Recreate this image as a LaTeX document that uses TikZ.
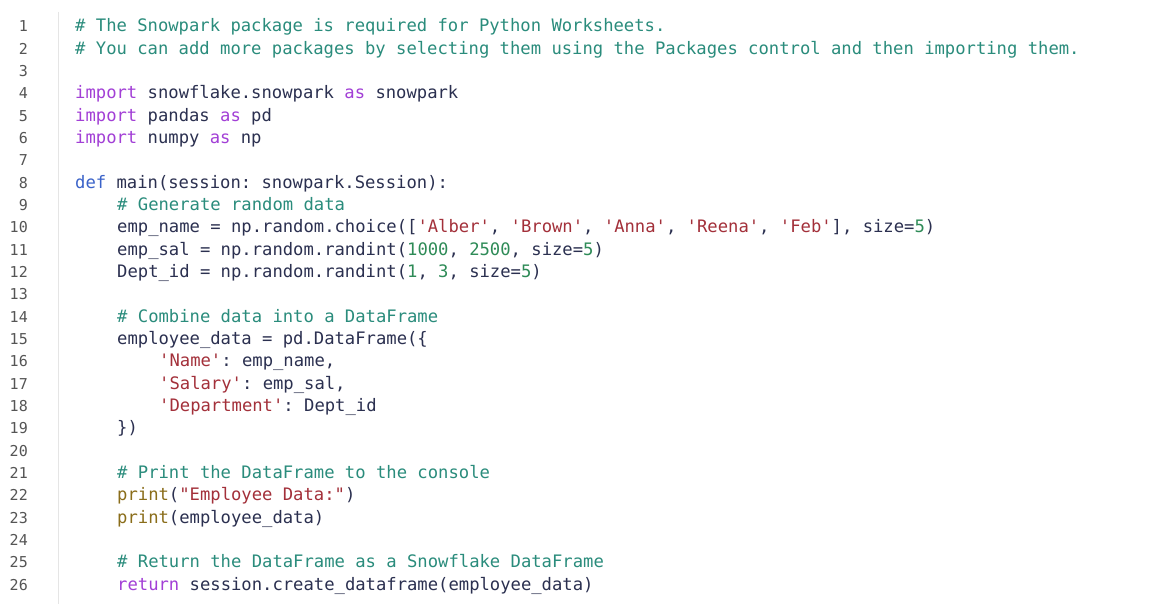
\documentclass[tikz,border=0pt]{standalone}
\usepackage{fontspec}
\setmonofont{DejaVu Sans Mono}
\definecolor{cmt}{HTML}{2A8C7C}
\definecolor{kw}{HTML}{A23FD6}
\definecolor{df}{HTML}{3B63C9}
\definecolor{st}{HTML}{A3303A}
\definecolor{nm}{HTML}{2E8B57}
\definecolor{fn}{HTML}{8A6D1A}
\definecolor{tx}{HTML}{2B3050}
\definecolor{ln}{HTML}{555555}
\newcommand{\Cm}[1]{\textcolor{cmt}{#1}}
\newcommand{\Kw}[1]{\textcolor{kw}{#1}}
\newcommand{\Df}[1]{\textcolor{df}{#1}}
\newcommand{\St}[1]{\textcolor{st}{#1}}
\newcommand{\Nm}[1]{\textcolor{nm}{#1}}
\newcommand{\Fn}[1]{\textcolor{fn}{#1}}
\newcommand{\CodeLine}[3]{\node[code] (c#1) at (#2,{26+22.32*(#1-1)+6}) {#3};}
\begin{document}
\begin{tikzpicture}[x=1pt,y=-1pt,
  code/.style={anchor=base west,inner sep=0pt,font=\ttfamily\fontsize{17.2}{18}\selectfont,text=tx},
  lnum/.style={anchor=base east,inner sep=0pt,font=\ttfamily\fontsize{15}{18}\selectfont,text=ln}]
\useasboundingbox (0,0) rectangle (1170,604);
\fill[white] (0,0) rectangle (1170,604);
\draw[gray!20,line width=1pt] (58,12) -- (58,604);
\foreach \n in {1,...,26}{
  \node[lnum] (l\n) at (28,{26+22.32*(\n-1)+6}) {\n};
}
\CodeLine{1}{75}{\Cm{\# The Snowpark package is required for Python Worksheets.}}
\CodeLine{2}{75}{\Cm{\# You can add more packages by selecting them using the Packages control and then importing them.}}
\CodeLine{4}{75}{\Kw{import} snowflake.snowpark \Kw{as} snowpark}
\CodeLine{5}{75}{\Kw{import} pandas \Kw{as} pd}
\CodeLine{6}{75}{\Kw{import} numpy \Kw{as} np}
\CodeLine{8}{75}{\Df{def} main(session: snowpark.Session):}
\CodeLine{9}{117}{\Cm{\# Generate random data}}
\CodeLine{10}{117}{emp\_name = np.random.choice([\St{'Alber'}, \St{'Brown'}, \St{'Anna'}, \St{'Reena'}, \St{'Feb'}], size=\Nm{5})}
\CodeLine{11}{117}{emp\_sal = np.random.randint(\Nm{1000}, \Nm{2500}, size=\Nm{5})}
\CodeLine{12}{117}{Dept\_id = np.random.randint(\Nm{1}, \Nm{3}, size=\Nm{5})}
\CodeLine{14}{117}{\Cm{\# Combine data into a DataFrame}}
\CodeLine{15}{117}{employee\_data = pd.DataFrame(\{}
\CodeLine{16}{159}{\St{'Name'}: emp\_name,}
\CodeLine{17}{159}{\St{'Salary'}: emp\_sal,}
\CodeLine{18}{159}{\St{'Department'}: Dept\_id}
\CodeLine{19}{117}{\})}
\CodeLine{21}{117}{\Cm{\# Print the DataFrame to the console}}
\CodeLine{22}{117}{\Fn{print}(\St{"Employee Data:"})}
\CodeLine{23}{117}{\Fn{print}(employee\_data)}
\CodeLine{25}{117}{\Cm{\# Return the DataFrame as a Snowflake DataFrame}}
\CodeLine{26}{117}{\Kw{return} session.create\_dataframe(employee\_data)}
\end{tikzpicture}
\end{document}
